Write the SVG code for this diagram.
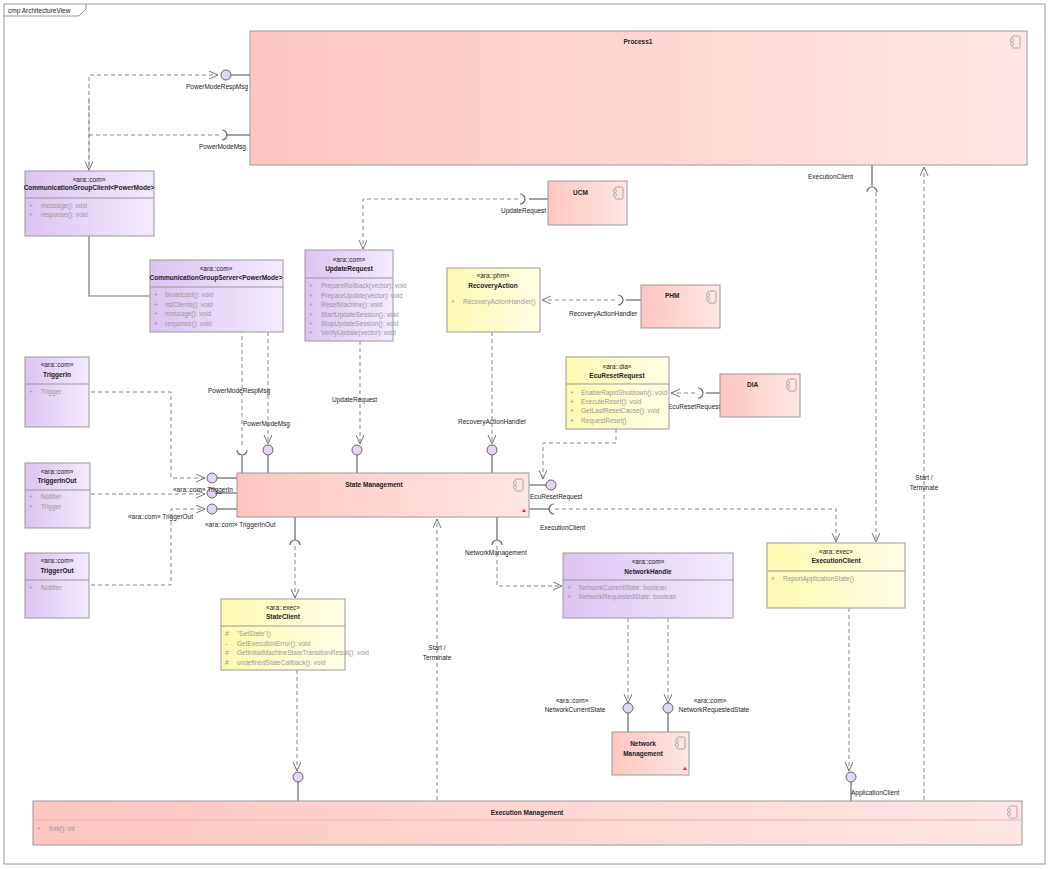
<svg xmlns="http://www.w3.org/2000/svg" width="1050" height="869" viewBox="0 0 1050 869">
<defs>
<linearGradient id="gr" x1="0" x2="1"><stop offset="0" stop-color="#fdc6c0"/><stop offset="1" stop-color="#ffe6e4"/></linearGradient>
<linearGradient id="gp" x1="0" x2="1"><stop offset="0" stop-color="#dcc4f2"/><stop offset="1" stop-color="#f3ebfc"/></linearGradient>
<linearGradient id="gy" x1="0" x2="1"><stop offset="0" stop-color="#fdfbb0"/><stop offset="1" stop-color="#fffee6"/></linearGradient>
<marker id="ar" markerWidth="10" markerHeight="10" refX="9" refY="4" orient="auto" markerUnits="userSpaceOnUse"><path d="M0,0 L9,4 L0,8" fill="none" stroke="#777" stroke-width="1"/></marker>
<g id="ico"><rect x="-4" y="-6" width="8" height="12" rx="1.5" fill="none" stroke="#999" stroke-width="0.8"/><rect x="-5.5" y="-3" width="3" height="2" fill="#fff" stroke="#999" stroke-width="0.6"/><rect x="-5.5" y="1" width="3" height="2" fill="#fff" stroke="#999" stroke-width="0.6"/></g>
</defs>
<style>
text{font-family:"Liberation Sans",Arial,sans-serif;font-size:6.5px;fill:#222}
.b{font-weight:bold}
.m{fill:#999}
.c{text-anchor:middle}
.r{stroke:#999;stroke-width:1}
.d{fill:none;stroke:#888;stroke-width:1;stroke-dasharray:4,3}
.s{fill:none;stroke:#777;stroke-width:1.2}
.l{fill:#e4d4f6;stroke:#666;stroke-width:1}
.k{fill:none;stroke:#666;stroke-width:1.2}
</style>
<rect x="0" y="0" width="1050" height="869" fill="#fff"/>
<rect x="4" y="4" width="1041" height="860" fill="none" stroke="#999"/>
<path d="M4,16 H79 L86,9 V4" fill="none" stroke="#999"/>
<text x="8" y="13">cmp ArchitectureView</text>

<g id="connectors">
<path class="d" d="M89,172 V75 H218" marker-end="url(#ar)"/>
<path class="d" d="M89,135 H220"/>
<path class="d" d="M89,100 V170" marker-end="url(#ar)"/>
<path class="s" d="M89,236 V296 H150"/>
<path class="d" d="M242,445 V262" marker-end="url(#ar)"/>
<path class="d" d="M268,332 V444" marker-end="url(#ar)"/>
<path class="d" d="M518,199 H363 V249" marker-end="url(#ar)"/>
<path class="d" d="M360,341 V444" marker-end="url(#ar)"/>
<path class="d" d="M615,300 H542" marker-end="url(#ar)"/>
<path class="d" d="M492,332 V444" marker-end="url(#ar)"/>
<path class="d" d="M695,393 H671" marker-end="url(#ar)"/>
<path class="d" d="M616,429 V443 H543 V479" marker-end="url(#ar)"/>
<path class="d" d="M555,509 H836 V542" marker-end="url(#ar)"/>
<path class="d" d="M876,192 V542" marker-end="url(#ar)"/>
<path class="d" d="M924,800 V167" marker-end="url(#ar)"/>
<path class="d" d="M91,392 H171 V478 H205" marker-end="url(#ar)"/>
<path class="d" d="M91,494 H205" marker-end="url(#ar)"/>
<path class="d" d="M91,585 H171 V509 H205" marker-end="url(#ar)"/>
<path class="d" d="M295,546 V598" marker-end="url(#ar)"/>
<path class="d" d="M297,670 V771" marker-end="url(#ar)"/>
<path class="d" d="M437,800 V519" marker-end="url(#ar)"/>
<path class="d" d="M497,546 V586 H562" marker-end="url(#ar)"/>
<path class="d" d="M628,618 V703" marker-end="url(#ar)"/>
<path class="d" d="M668,618 V703" marker-end="url(#ar)"/>
<path class="d" d="M849,608 V771" marker-end="url(#ar)"/>
</g>

<g id="ports">
<line class="k" x1="231" y1="75" x2="250" y2="75"/><circle class="l" cx="226" cy="75" r="5"/>
<line class="k" x1="226" y1="135" x2="250" y2="135"/><path class="k" d="M222,130 A5,5 0 0 1 222,140"/>
<line class="k" x1="872" y1="165" x2="872" y2="186"/><path class="k" d="M867,192 A5,5 0 0 1 877,192"/>
<line class="k" x1="529" y1="199" x2="548" y2="199"/><path class="k" d="M520,194 A5,5 0 0 1 520,204"/>
<line class="k" x1="626" y1="300" x2="641" y2="300"/><path class="k" d="M618,295 A5,5 0 0 1 618,305"/>
<line class="k" x1="706" y1="393" x2="720" y2="393"/><path class="k" d="M698,388 A5,5 0 0 1 698,398"/>
<line class="k" x1="242" y1="456" x2="242" y2="473"/><path class="k" d="M237,450 A5,5 0 0 0 247,450"/>
<line class="k" x1="268" y1="455" x2="268" y2="473"/><circle class="l" cx="268" cy="450" r="5"/>
<line class="k" x1="357" y1="455" x2="357" y2="473"/><circle class="l" cx="357" cy="450" r="5"/>
<line class="k" x1="492" y1="455" x2="492" y2="473"/><circle class="l" cx="492" cy="450" r="5"/>
<line class="k" x1="217" y1="478" x2="237" y2="478"/><circle class="l" cx="212" cy="478" r="5"/>
<line class="k" x1="217" y1="493" x2="237" y2="493"/><circle class="l" cx="212" cy="493" r="5"/>
<line class="k" x1="217" y1="509" x2="237" y2="509"/><circle class="l" cx="212" cy="509" r="5"/>
<line class="k" x1="529" y1="485" x2="546" y2="485"/><circle class="l" cx="551" cy="485" r="5"/>
<line class="k" x1="529" y1="509" x2="549" y2="509"/><path class="k" d="M554,504 A5,5 0 0 0 554,514"/>
<line class="k" x1="295" y1="517" x2="295" y2="540"/><path class="k" d="M290,545 A5,5 0 0 1 300,545"/>
<line class="k" x1="497" y1="517" x2="497" y2="540"/><path class="k" d="M492,545 A5,5 0 0 1 502,545"/>
<line class="k" x1="628" y1="713" x2="628" y2="732"/><circle class="l" cx="628" cy="708" r="5"/>
<line class="k" x1="668" y1="713" x2="668" y2="732"/><circle class="l" cx="668" cy="708" r="5"/>
<line class="k" x1="298" y1="782" x2="298" y2="801"/><circle class="l" cx="298" cy="777" r="5"/>
<line class="k" x1="851" y1="782" x2="851" y2="801"/><circle class="l" cx="851" cy="777" r="5"/>
</g>

<g id="labels">
<text x="186" y="89">PowerModeRespMsg</text>
<text x="199" y="149">PowerModeMsg</text>
<text x="808" y="179">ExecutionClient</text>
<text x="501" y="213">UpdateRequest</text>
<text x="569" y="316">RecoveryActionHandler</text>
<text x="668" y="409">EcuResetRequest</text>
<text x="208" y="393">PowerModeRespMsg</text>
<text x="243" y="426">PowerModeMsg</text>
<text x="332" y="402">UpdateRequest</text>
<text x="458" y="424">RecoveryActionHandler</text>
<text x="173" y="492">«ara::com» TriggerIn</text>
<text x="128" y="519">«ara::com» TriggerOut</text>
<text x="205" y="527">«ara::com» TriggerInOut</text>
<text x="530" y="499">EcuResetRequest</text>
<text x="540" y="530">ExecutionClient</text>
<text x="465" y="555">NetworkManagement</text>
<text class="c" x="924" y="480">Start /</text>
<text class="c" x="924" y="490">Terminate</text>
<text class="c" x="437" y="650">Start /</text>
<text class="c" x="437" y="660">Terminate</text>
<text class="c" x="572" y="703">«ara::com»</text>
<text class="c" x="575" y="712">NetworkCurrentState</text>
<text class="c" x="710" y="703">«ara::com»</text>
<text class="c" x="714" y="712">NetworkRequestedState</text>
<text x="851" y="795">ApplicationClient</text>
</g>

<g id="Process1"><rect class="r" x="250" y="31" width="777" height="134" fill="url(#gr)"/><text class="b c" x="638" y="44">Process1</text><use href="#ico" x="1016" y="42"/></g>
<g id="UCM"><rect class="r" x="548" y="181" width="79" height="44" fill="url(#gr)"/><text class="b" x="573" y="195">UCM</text><use href="#ico" x="619" y="193"/></g>
<g id="PHM"><rect class="r" x="641" y="285" width="79" height="43" fill="url(#gr)"/><text class="b" x="665" y="298">PHM</text><use href="#ico" x="712" y="297"/></g>
<g id="DIA"><rect class="r" x="720" y="374" width="80" height="43" fill="url(#gr)"/><text class="b" x="747" y="387">DIA</text><use href="#ico" x="792" y="385"/></g>

<g id="CommClient"><rect class="r" x="25" y="171" width="129" height="65" fill="url(#gp)"/><text class="c" x="89" y="182">«ara::com»</text><text class="b c" x="89" y="190">CommunicationGroupClient&lt;PowerMode&gt;</text><line class="r" x1="25" y1="198" x2="154" y2="198"/><text class="m" x="29" y="208">+</text><text class="m" x="41" y="208">message(): void</text><text class="m" x="29" y="217">+</text><text class="m" x="41" y="217">response(): void</text></g>
<g id="CommServer"><rect class="r" x="150" y="260" width="133" height="72" fill="url(#gp)"/><text class="c" x="216" y="271">«ara::com»</text><text class="b c" x="216" y="280">CommunicationGroupServer&lt;PowerMode&gt;</text><line class="r" x1="150" y1="287" x2="283" y2="287"/><text class="m" x="154" y="297">+</text><text class="m" x="165" y="297">broadcast(): void</text><text class="m" x="154" y="307">+</text><text class="m" x="165" y="307">listClients(): void</text><text class="m" x="154" y="316">+</text><text class="m" x="165" y="316">message(): void</text><text class="m" x="154" y="326">+</text><text class="m" x="165" y="326">response(): void</text></g>
<g id="UpdateRequest"><rect class="r" x="305" y="250" width="88" height="91" fill="url(#gp)"/><text class="c" x="349" y="262">«ara::com»</text><text class="b c" x="349" y="271">UpdateRequest</text><line class="r" x1="305" y1="278" x2="393" y2="278"/>
<text class="m" x="309" y="288">+</text><text class="m" x="321" y="288">PrepareRollback(vector): void</text>
<text class="m" x="309" y="298">+</text><text class="m" x="321" y="298">PrepareUpdate(vector): void</text>
<text class="m" x="309" y="307">+</text><text class="m" x="321" y="307">ResetMachine(): void</text>
<text class="m" x="309" y="317">+</text><text class="m" x="321" y="317">StartUpdateSession(): void</text>
<text class="m" x="309" y="326">+</text><text class="m" x="321" y="326">StopUpdateSession(): void</text>
<text class="m" x="309" y="335">+</text><text class="m" x="321" y="335">VerifyUpdate(vector): void</text></g>
<g id="RecoveryAction"><rect class="r" x="447" y="268" width="93" height="64" fill="url(#gy)"/><text class="c" x="493" y="278">«ara::phm»</text><text class="b c" x="493" y="288">RecoveryAction</text><text class="m" x="451" y="304">+</text><text class="m" x="463" y="304">RecoveryActionHandler()</text></g>
<g id="EcuResetRequest"><rect class="r" x="566" y="357" width="103" height="72" fill="url(#gy)"/><text class="c" x="617" y="369">«ara::dia»</text><text class="b c" x="617" y="378">EcuResetRequest</text><line class="r" x1="566" y1="384" x2="669" y2="384"/>
<text class="m" x="570" y="395">+</text><text class="m" x="581" y="395">EnableRapidShutdown(): void</text>
<text class="m" x="570" y="404">+</text><text class="m" x="581" y="404">ExecuteReset(): void</text>
<text class="m" x="570" y="413">+</text><text class="m" x="581" y="413">GetLastResetCause(): void</text>
<text class="m" x="570" y="423">+</text><text class="m" x="581" y="423">RequestReset()</text></g>
<g id="TriggerIn"><rect class="r" x="25" y="357" width="64" height="70" fill="url(#gp)"/><text class="c" x="57" y="367">«ara::com»</text><text class="b c" x="57" y="377">TriggerIn</text><line class="r" x1="25" y1="384" x2="89" y2="384"/><text class="m" x="29" y="394">+</text><text class="m" x="41" y="394">Trigger</text></g>
<g id="TriggerInOut"><rect class="r" x="25" y="463" width="65" height="65" fill="url(#gp)"/><text class="c" x="57" y="474">«ara::com»</text><text class="b c" x="57" y="483">TriggerInOut</text><line class="r" x1="25" y1="490" x2="90" y2="490"/><text class="m" x="29" y="499">+</text><text class="m" x="41" y="499">Notifier</text><text class="m" x="29" y="509">+</text><text class="m" x="41" y="509">Trigger</text></g>
<g id="TriggerOut"><rect class="r" x="25" y="553" width="64" height="65" fill="url(#gp)"/><text class="c" x="57" y="563">«ara::com»</text><text class="b c" x="57" y="573">TriggerOut</text><line class="r" x1="25" y1="580" x2="89" y2="580"/><text class="m" x="29" y="590">+</text><text class="m" x="41" y="590">Notifier</text></g>
<g id="StateManagement"><rect class="r" x="237" y="473" width="292" height="44" fill="url(#gr)"/><text class="b c" x="374" y="487">State Management</text><use href="#ico" x="519" y="485"/><text x="521" y="512" style="fill:#e22;font-size:6px">▲</text></g>
<g id="StateClient"><rect class="r" x="221" y="599" width="124" height="71" fill="url(#gy)"/><text class="c" x="283" y="610">«ara::exec»</text><text class="b c" x="283" y="619">StateClient</text><line class="r" x1="221" y1="626" x2="345" y2="626"/>
<text class="m" x="225" y="636">#</text><text class="m" x="237" y="636">"SetState"()</text>
<text class="m" x="225" y="646">-</text><text class="m" x="237" y="646">GetExecutionError(): void</text>
<text class="m" x="225" y="655">#</text><text class="m" x="237" y="655">GetInitialMachineStateTransitionResult(): void</text>
<text class="m" x="225" y="665">#</text><text class="m" x="237" y="665">undefinedStateCallback(): void</text></g>
<g id="NetworkHandle"><rect class="r" x="563" y="553" width="170" height="65" fill="url(#gp)"/><text class="c" x="648" y="564">«ara::com»</text><text class="b c" x="648" y="574">NetworkHandle</text><line class="r" x1="563" y1="580" x2="733" y2="580"/><text class="m" x="567" y="590">+</text><text class="m" x="579" y="590">NetworkCurrentState: boolean</text><text class="m" x="567" y="599">+</text><text class="m" x="579" y="599">NetworkRequestedState: boolean</text></g>
<g id="ExecutionClient"><rect class="r" x="767" y="543" width="138" height="65" fill="url(#gy)"/><text class="c" x="836" y="554">«ara::exec»</text><text class="b c" x="836" y="563">ExecutionClient</text><line class="r" x1="767" y1="571" x2="905" y2="571"/><text class="m" x="771" y="581">+</text><text class="m" x="783" y="581">ReportApplicationState()</text></g>
<g id="NetworkManagement"><rect class="r" x="612" y="732" width="77" height="43" fill="url(#gr)"/><text class="b c" x="643" y="746">Network</text><text class="b c" x="643" y="756">Management</text><use href="#ico" x="681" y="743"/><text x="682" y="770" style="fill:#e22;font-size:6px">▲</text></g>
<g id="ExecutionManagement"><rect class="r" x="33" y="801" width="989" height="44" fill="url(#gr)"/><text class="b c" x="527" y="815">Execution Management</text><use href="#ico" x="1013" y="812"/><line x1="33" y1="820" x2="1022" y2="820" stroke="#f0b0aa"/><text class="m" x="37" y="831">+</text><text class="m" x="49" y="831">fork(): int</text></g>
</svg>
